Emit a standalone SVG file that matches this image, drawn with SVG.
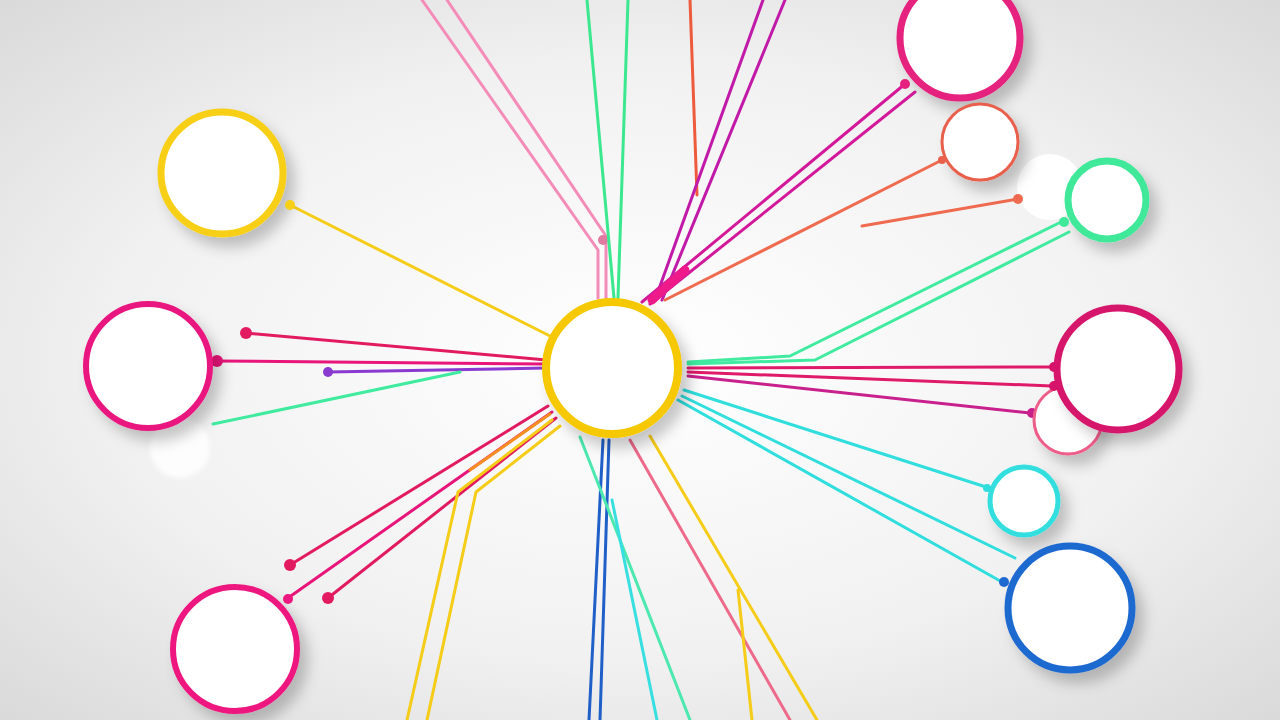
<svg xmlns="http://www.w3.org/2000/svg" width="1280" height="720" viewBox="0 0 1280 720">
<defs>
<radialGradient id="bg" cx="50%" cy="50%" r="75%">
<stop offset="0" stop-color="#ffffff"/>
<stop offset="0.55" stop-color="#f1f1f1"/>
<stop offset="1" stop-color="#d6d6d6"/>
</radialGradient>
<filter id="sh" x="-40%" y="-40%" width="180%" height="180%">
<feDropShadow dx="8" dy="10" stdDeviation="7" flood-color="#000" flood-opacity="0.22"/>
</filter>
<filter id="blur" x="-50%" y="-50%" width="200%" height="200%">
<feGaussianBlur stdDeviation="2"/>
</filter>
</defs>
<style>
.l{fill:none;stroke-width:3;stroke-linecap:round;stroke-linejoin:round}
.n{fill:#fff;filter:url(#sh)}
</style>
<rect width="1280" height="720" fill="url(#bg)"/>

<g id="ghosts">
<circle cx="180" cy="448" r="30" fill="#fff" opacity="0.85" filter="url(#blur)"/>
<circle cx="1050" cy="187" r="33" fill="#fff"/>
</g>

<g id="connectors">
<!-- top pink -->
<path class="l" stroke="#f48bb8" d="M422 0 L598 250 L598 298"/>
<path class="l" stroke="#f48bb8" d="M447 0 L606 236 L606 298"/>
<circle cx="603" cy="240" r="5" fill="#e07aa0"/>
<!-- top green -->
<path class="l" stroke="#3be88f" d="M587 0 L614 298"/>
<path class="l" stroke="#3be88f" d="M628 0 L618 298"/>
<!-- orange vertical -->
<path class="l" stroke="#ee5a3c" d="M690 0 L697 195"/>
<!-- magenta -->
<path class="l" stroke="#c21aa8" d="M763 0 L655 300"/>
<path class="l" stroke="#c21aa8" d="M785 0 L662 300"/>
<path class="l" stroke="#d3199a" d="M905 84 L642 302"/>
<path class="l" stroke="#d3199a" d="M915 92 L650 304"/>
<path stroke="#ef1a8a" stroke-width="9" stroke-linecap="round" d="M685 270 L652 300"/>
<!-- orange -->
<path class="l" stroke="#ef6a4e" d="M942 160 L665 300"/>
<path class="l" stroke="#ef6a4e" d="M1018 199 L862 226"/>
<circle cx="1018" cy="199" r="5" fill="#ef6a4e"/>
<!-- green right -->
<path class="l" stroke="#40eba0" d="M1063 221 L790 356 L688 362"/>
<path class="l" stroke="#40eba0" d="M1069 232 L815 360 L688 364"/>
<!-- yellow top-left -->
<path class="l" stroke="#f5cc17" d="M290 205 L550 336"/>
<!-- left -->
<path class="l" stroke="#e8157a" d="M216 361 L546 364"/>
<path class="l" stroke="#e21a60" d="M246 333 L546 360"/>
<circle cx="246" cy="333" r="6" fill="#e21a60"/>
<circle cx="217" cy="361" r="6" fill="#e8157a"/>
<path class="l" stroke="#8a3ad0" d="M328 372 L546 368"/>
<circle cx="328" cy="372" r="5" fill="#8a3ad0"/>
<path class="l" stroke="#40eba0" d="M213 424 L460 372"/>
<!-- bottom-left pink -->
<path class="l" stroke="#e21a60" d="M290 565 L548 406"/>
<path class="l" stroke="#e8157a" d="M288 598 L552 412"/>
<path class="l" stroke="#e21a60" d="M328 598 L556 418"/>
<circle cx="290" cy="565" r="6" fill="#e21a60"/>
<circle cx="328" cy="598" r="6" fill="#e21a60"/>
<!-- yellow down-left -->
<path class="l" stroke="#f5cc17" d="M552 420 L458 492 L407 720"/>
<path class="l" stroke="#f5cc17" d="M560 426 L476 492 L427 720"/>
<path class="l" stroke="#f59020" d="M550 414 L470 470"/>
<!-- bottom -->
<path class="l" stroke="#1f5fc8" d="M603 440 L589 720"/>
<path class="l" stroke="#1f5fc8" d="M609 440 L600 720"/>
<path class="l" stroke="#4be8b0" d="M580 437 L690 720"/>
<path class="l" stroke="#38dfe0" d="M612 500 L657 720"/>
<path class="l" stroke="#ee6a8a" d="M630 440 L790 720"/>
<path class="l" stroke="#f5cc17" d="M650 436 L817 720"/>
<path class="l" stroke="#f5cc17" d="M738 590 L752 720"/>
<!-- right pink -->
<path class="l" stroke="#e01a6a" d="M1052 367 L688 368"/>
<path class="l" stroke="#e01a6a" d="M1052 386 L688 372"/>
<path class="l" stroke="#c8208c" d="M1030 413 L688 376"/>
<circle cx="1032" cy="413" r="5" fill="#c8208c"/>
<!-- cyan -->
<path class="l" stroke="#30dede" d="M986 487 L684 390"/>
<path class="l" stroke="#30dede" d="M1015 558 L682 396"/>
<path class="l" stroke="#30dede" d="M1002 582 L678 400"/>
</g>

<g id="center">
<circle class="n" cx="612" cy="368" r="66" stroke="#f5c800" stroke-width="8"/>
</g>
<g id="n-yellow">
<circle class="n" cx="222" cy="173" r="61" stroke="#f7cf16" stroke-width="7"/>
</g>
<g id="n-left">
<circle class="n" cx="148" cy="366" r="62" stroke="#ea1580" stroke-width="6"/>
</g>
<g id="n-bottomleft">
<circle class="n" cx="235" cy="649" r="62" stroke="#ee167f" stroke-width="6"/>
</g>
<g id="n-topright">
<circle class="n" cx="960" cy="38" r="60" stroke="#e6207f" stroke-width="7"/>
</g>
<g id="n-orange">
<circle class="n" cx="980" cy="142" r="38" stroke="#e8604c" stroke-width="3"/>
</g>
<g id="n-mint">
<circle class="n" cx="1107" cy="200" r="39" stroke="#40e89a" stroke-width="7"/>
</g>
<g id="n-smallpink">
<circle class="n" cx="1068" cy="420" r="34" stroke="#ee5c8a" stroke-width="3"/>
</g>
<g id="n-right">
<circle class="n" cx="1118" cy="369" r="61" stroke="#d6136b" stroke-width="7"/>
</g>
<g id="n-cyan">
<circle class="n" cx="1024" cy="501" r="34" stroke="#30dede" stroke-width="5"/>
</g>
<g id="n-blue">
<circle class="n" cx="1070" cy="608" r="62" stroke="#1f6ad0" stroke-width="7"/>
</g>
<g id="stubs">
<circle cx="290" cy="205" r="5" fill="#f7cf16"/>
<circle cx="905" cy="84" r="5" fill="#e6207f"/>
<circle cx="942" cy="160" r="4" fill="#e8604c"/>
<circle cx="1064" cy="222" r="5" fill="#40e89a"/>
<circle cx="1054" cy="367" r="5" fill="#d6136b"/>
<circle cx="1054" cy="386" r="5" fill="#d6136b"/>
<circle cx="987" cy="488" r="4" fill="#30dede"/>
<circle cx="1004" cy="582" r="5" fill="#1f6ad0"/>
<circle cx="288" cy="599" r="5" fill="#ee167f"/>
</g>
</svg>
